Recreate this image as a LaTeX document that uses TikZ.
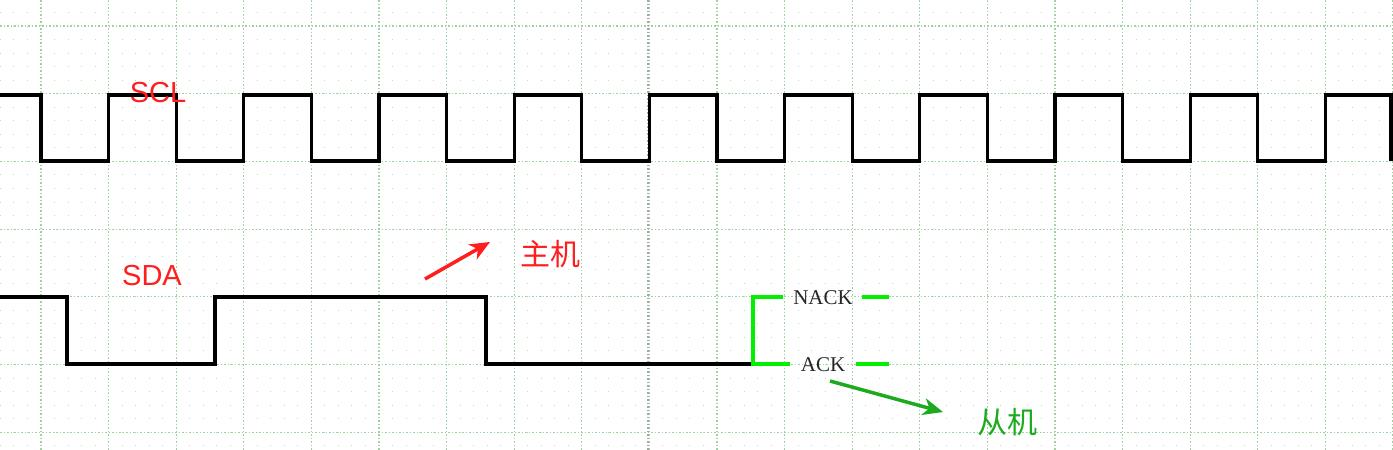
\documentclass[tikz,border=0pt]{standalone}
\usepackage{fontspec}
\setsansfont{Liberation Sans}
\setmainfont{Liberation Serif}
\newfontfamily\cjk{Noto Sans CJK SC}
\usetikzlibrary{arrows.meta}
\definecolor{gridg}{RGB}{160,210,160}
\definecolor{lred}{RGB}{255,30,30}
\definecolor{dgreen}{RGB}{30,170,30}
\definecolor{bgreen}{RGB}{0,240,0}
\begin{document}
\begin{tikzpicture}[x=1pt,y=-1pt,
  sig/.style={line width=3.2pt,black,line join=miter},
  grn/.style={line width=3.2pt,bgreen},
  lbl/.style={font=\sffamily\fontsize{29}{29}\selectfont,text=lred,inner sep=0},
  cn/.style={font=\cjk\fontsize{30}{30}\selectfont,inner sep=0},
  ak/.style={font=\rmfamily\fontsize{21}{21}\selectfont,text=black!85,inner sep=0}]
\useasboundingbox (0,0) rectangle (1393,450);
\fill[white] (0,0) rectangle (1393,450);
% minor dots
\foreach \i in {-1,...,20}{\foreach \k in {1,...,4}{
  \draw[gridg!70,line width=1pt,dash pattern=on 1pt off 12.54pt,dash phase=0.5pt] ({41+67.6*\i+13.52*\k},{26-67.7}) -- ++(0,600);}}
\foreach \i in {0,...,20}{\draw[gridg,line width=1.2pt,dash pattern=on 1.5pt off 2pt] ({41+67.6*\i},0) -- ++(0,450);}
\foreach \j in {0,...,6}{\draw[gridg,line width=1.2pt,dash pattern=on 1.5pt off 2pt] (0,{26+67.7*\j}) -- ++(1393,0);}
\draw[gray!70,line width=1.4pt,dash pattern=on 1.5pt off 2pt] (648,0) -- (648,450);
% SCL
\draw[sig] (0,95)
  \foreach \t in {0,...,9}{ -- ({41+135.2*\t},95) -- ({41+135.2*\t},161) -- ({108.6+135.2*\t},161) -- ({108.6+135.2*\t},95)}
  -- (1391,95) -- (1391,161);
% SDA
\draw[sig] (0,297) -- (67,297) -- (67,364) -- (215,364) -- (215,297) -- (486,297) -- (486,364) -- (753,364);
\node[ak] (nack) at (823,298) {NACK};
\node[ak] (ack) at (823,365) {ACK};
\draw[grn] (783,297) -- (753,297) -- (753,364) -- (790,364);
\draw[grn] (862,297) -- (889,297);
\draw[grn] (856,364) -- (889,364);
\node[lbl] (scl) at (158,93) {SCL};
\node[lbl] (sda) at (152,276) {SDA};
\node[cn,text=lred] (zhu) at (550,254) {主机};
\node[cn,text=dgreen] (cong) at (1007,422) {从机};
\coordinate (r0) at (425,279);
\coordinate (r1) at (490,242);
\coordinate (g0) at (830,381);
\coordinate (g1) at (943,412);
\draw[lred,line width=3.5pt,-{Stealth[length=20pt,width=17pt,inset=6pt]}] (r0) -- (r1);
\draw[dgreen,line width=3.5pt,-{Stealth[length=20pt,width=17pt,inset=6pt]}] (g0) -- (g1);
\end{tikzpicture}
\end{document}
